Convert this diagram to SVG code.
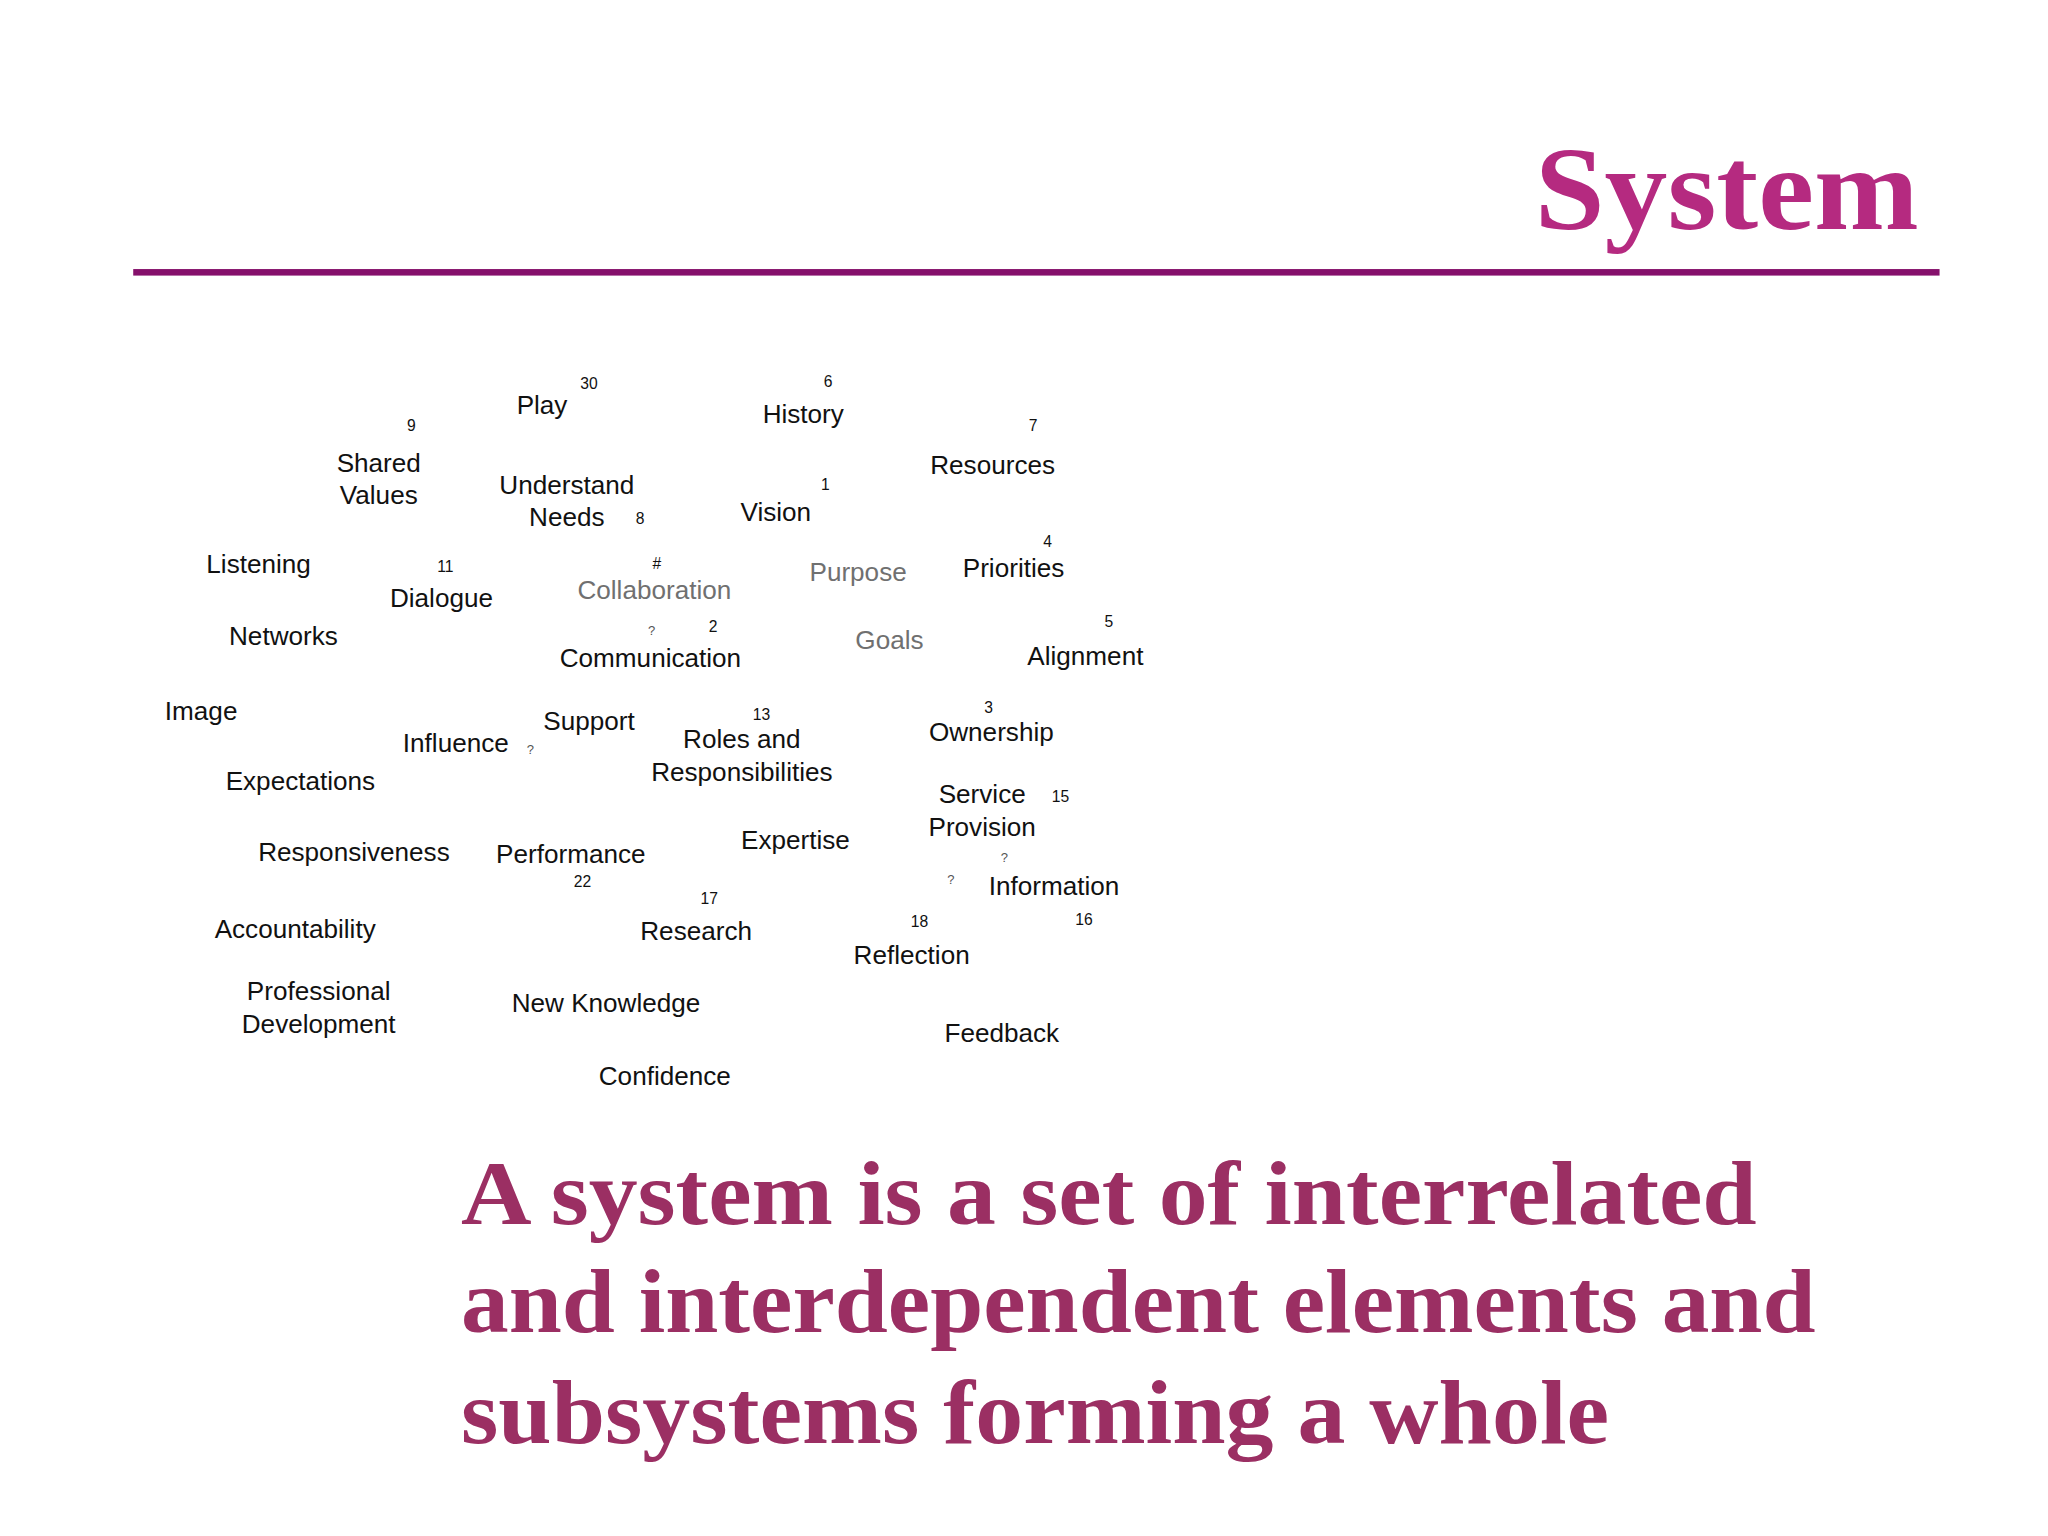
<svg xmlns="http://www.w3.org/2000/svg" width="2048" height="1536" viewBox="0 0 2048 1536">
<style>
.w{font-family:"Liberation Sans",Arial,sans-serif;font-size:20px;fill:#111;text-anchor:middle}
.g{fill:#707070}
.n{font-family:"Liberation Sans",Arial,sans-serif;font-size:12px;fill:#111;text-anchor:middle}
.q{font-family:"Liberation Sans",Arial,sans-serif;font-size:10px;fill:#555;text-anchor:middle}
.t{font-family:"Liberation Serif","Times New Roman",serif;font-weight:bold}
</style>
<rect width="2048" height="1536" fill="#fff"/>
<g transform="scale(1.3061)">
<g id="title"><text class="t" x="1175" y="175" font-size="90" fill="#b52a80" textLength="294" lengthAdjust="spacingAndGlyphs">System</text></g>
<rect x="102" y="206" width="1383" height="5" fill="#85106b"/>
<g id="words">
<g id="play"><text class="w" x="415" y="317">Play</text><text class="n" x="451" y="298">30</text></g>
<g id="history"><text class="w" x="615" y="324">History</text><text class="n" x="634" y="296">6</text></g>
<g id="shared"><text class="n" x="315" y="330">9</text><text class="w" x="290" y="361">Shared</text><text class="w" x="290" y="386">Values</text></g>
<g id="understand"><text class="w" x="434" y="378">Understand</text><text class="w" x="434" y="403">Needs</text><text class="n" x="490" y="401">8</text></g>
<g id="resources"><text class="n" x="791" y="330">7</text><text class="w" x="760" y="363">Resources</text></g>
<g id="vision"><text class="n" x="632" y="375">1</text><text class="w" x="594" y="399">Vision</text></g>
<g id="listening"><text class="w" x="198" y="439">Listening</text></g>
<g id="dialogue"><text class="n" x="341" y="438">11</text><text class="w" x="338" y="465">Dialogue</text></g>
<g id="collab"><text class="n" x="503" y="436">#</text><text class="w g" x="501" y="459">Collaboration</text></g>
<g id="purpose"><text class="w g" x="657" y="445">Purpose</text></g>
<g id="priorities"><text class="n" x="802" y="419">4</text><text class="w" x="776" y="442">Priorities</text></g>
<g id="networks"><text class="w" x="217" y="494">Networks</text></g>
<g id="comm"><text class="q" x="499" y="486">?</text><text class="n" x="546" y="484">2</text><text class="w" x="498" y="511">Communication</text></g>
<g id="goals"><text class="w g" x="681" y="497">Goals</text></g>
<g id="alignment"><text class="n" x="849" y="480">5</text><text class="w" x="831" y="509">Alignment</text></g>
<g id="image"><text class="w" x="154" y="551">Image</text></g>
<g id="ownership"><text class="n" x="757" y="546">3</text><text class="w" x="759" y="567">Ownership</text></g>
<g id="support"><text class="w" x="451" y="559">Support</text></g>
<g id="roles"><text class="n" x="583" y="551">13</text><text class="w" x="568" y="573">Roles and</text><text class="w" x="568" y="598">Responsibilities</text></g>
<g id="influence"><text class="w" x="349" y="576">Influence</text><text class="q" x="406" y="577">?</text></g>
<g id="expectations"><text class="w" x="230" y="605">Expectations</text></g>
<g id="service"><text class="w" x="752" y="615">Service</text><text class="n" x="812" y="614">15</text><text class="w" x="752" y="640">Provision</text></g>
<g id="expertise"><text class="w" x="609" y="650">Expertise</text></g>
<g id="responsiveness"><text class="w" x="271" y="659">Responsiveness</text></g>
<g id="performance"><text class="w" x="437" y="661">Performance</text><text class="n" x="446" y="679">22</text></g>
<g id="information"><text class="q" x="769" y="660">?</text><text class="q" x="728" y="677">?</text><text class="w" x="807" y="685">Information</text><text class="n" x="830" y="708">16</text></g>
<g id="research"><text class="n" x="543" y="692">17</text><text class="w" x="533" y="720">Research</text></g>
<g id="accountability"><text class="w" x="226" y="718">Accountability</text></g>
<g id="reflection"><text class="n" x="704" y="710">18</text><text class="w" x="698" y="738">Reflection</text></g>
<g id="profdev"><text class="w" x="244" y="766">Professional</text><text class="w" x="244" y="791">Development</text></g>
<g id="newknowledge"><text class="w" x="464" y="775">New Knowledge</text></g>
<g id="feedback"><text class="w" x="767" y="798">Feedback</text></g>
<g id="confidence"><text class="w" x="509" y="831">Confidence</text></g>
</g>
<g id="definition" fill="#9b2f63">
<text class="t" x="353" y="937" font-size="70" textLength="992" lengthAdjust="spacingAndGlyphs">A system is a set of interrelated</text>
<text class="t" x="353" y="1020" font-size="70" textLength="1037" lengthAdjust="spacingAndGlyphs">and interdependent elements and</text>
<text class="t" x="353" y="1105" font-size="70" textLength="879" lengthAdjust="spacingAndGlyphs">subsystems forming a whole</text>
</g>
<g id="connectors"/>
</g>
</svg>
